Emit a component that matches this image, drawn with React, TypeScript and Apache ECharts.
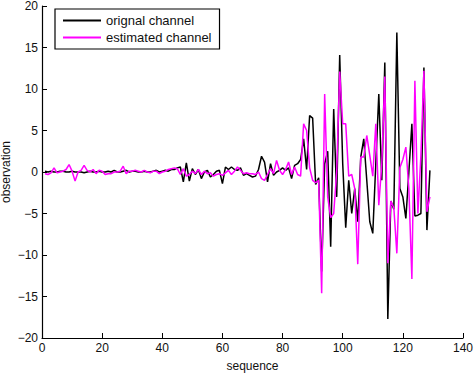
import React, { useEffect, useRef } from "react";
import * as echarts from "echarts";

const xTicks = [0, 20, 40, 60, 80, 100, 120, 140];
const yTicks = [-20, -15, -10, -5, 0, 5, 10, 15, 20];

const original = [
  0.1, 0, 0.1, 0, 0, 0.1, 0.1, 0, 0, 0.1,
  0, 0, 0, -0.1, 0, 0.1, 0, 0, 0.1, 0,
  0, 0.1, 0, 0.2, 0, 0, 0.1, 0.2, 0, 0.1,
  0.1, 0, 0, 0.1, 0, 0, 0.1, 0.2, 0, 0.1,
  0.2, 0.1, 0.3, 0.3, 0.5, 0.6, -1.2, 1.1, -1.1, 0.4,
  -0.3, 0.3, -0.8, 0, 0.2, -0.6, -0.3, 0.1, 0.2, -1.4,
  0.6, 0.3, 0.6, 0.3, 0.2, 0.5, -0.4, -0.2, -0.4, -0.6,
  -0.5, 0.3, 1.9, 1.2, -1.2, 1.0, -0.4, 0, 0.2, 0.5,
  0.2, 0.5, -0.8, 0.8, 1.0, 1.5, 4.0, 0.3, 6.8, 6.5,
  -1.5, -0.7, -12, 1, 2.5, -9, 7.6, -3, 14.1, 1,
  -6.7, -1, -5, -2, -6, 1.8, 4, -1, -6, -7.4,
  1, 9.4, -1, 13.2, -17.7, -3.5, -4.5, 16.8, -2, -3,
  -5.6, 0, 5.8, -5.3, -5.2, -5, 12.6, -7, 0.2,
];

const estimated = [
  -0.2, -0.3, -0.1, 0.5, -0.1, 0, 0.1, 0.3, 0.9, 0.1,
  -1.1, 0, 0.2, 0.8, 0.2, 0, 0.3, -0.2, 0.2, 0.1,
  -0.3, -0.2, -0.2, 0, 0, 0.1, 0.7, -0.2, 0.1, 0.1,
  0.2, 0.1, 0, 0.2, 0, -0.1, 0.1, 0.1, -0.2, 0,
  0.1, 0.3, 0.4, 0.5, 0.4, -0.3, 0.4, -0.5, -0.3, 0.1,
  -0.2, 0.3, -0.3, 0.1, -0.2, -0.1, -0.5, -0.3, -0.2, -0.4,
  -0.1, 0.2, -0.3, 0.1, 0.6, 0.2, -0.2, -0.1, -0.2, -0.2,
  -0.3, 0, -0.8, -1.0, -0.3, 0.4, -0.2, 1.4, 0.2, -0.3,
  0.3, 1.2, -0.3, 0.6, -0.3, -0.5, 5.8, 5.0, 0.5, -1.0,
  -1.3, -1.0, -14.6, 9.4, -3, -5.5, -5, 0, 12.1, 5.8,
  5.8, -0.5, -0.3, -2, -11.1, 1.8, 1.8, 4.4, 2, -0.5,
  5.8, -4, 1, 11.5, -11, -3.5, -4.3, -9.8, 0.5, 1.5,
  3, -2, -12.9, 11, -5, 2, 12.2, -4.8, -3,
];

const seriesNames = ["orignal channel", "estimated channel"];

export default function App() {
  const ref = useRef<HTMLDivElement>(null);
  useEffect(() => {
    if (!ref.current) return;
    const chart = echarts.init(ref.current, undefined, { renderer: "svg" });
    const font = "Liberation Sans, Arial, Helvetica, sans-serif";
    const minus = (v: number) => String(v).replace("-", "\u2212");
    chart.setOption({
      animation: false,
      backgroundColor: "#ffffff",
      textStyle: { fontFamily: font },
      grid: { left: 42, right: 11, top: 6, bottom: 35, containLabel: false, outerBoundsMode: "none" },
      legend: {
        orient: "vertical",
        left: 55,
        top: 9,
        padding: [5, 8, 5, 8],
        itemGap: 4,
        itemWidth: 38,
        itemHeight: 2,
        icon: "rect",
        borderColor: "#000",
        borderWidth: 1.2,
        backgroundColor: "#fff",
        textStyle: { fontFamily: font, fontSize: 13, color: "#111" },
        data: seriesNames,
      },
      xAxis: {
        type: "value",
        min: xTicks[0],
        max: xTicks[xTicks.length - 1],
        interval: 20,
        name: "sequence",
        nameLocation: "middle",
        nameGap: 22,
        nameMoveOverlap: false,
        nameTextStyle: { fontFamily: font, fontSize: 12, color: "#111" },
        axisLine: { onZero: false, lineStyle: { color: "#000", width: 1.2 } },
        axisTick: { inside: true, length: 5, lineStyle: { color: "#000" } },
        axisLabel: { color: "#111", fontSize: 12, margin: 4, fontFamily: font },
        splitLine: { show: false },
      },
      yAxis: {
        type: "value",
        min: yTicks[0],
        max: yTicks[yTicks.length - 1],
        interval: 5,
        name: "observation",
        nameLocation: "middle",
        nameGap: 30,
        nameMoveOverlap: false,
        nameRotate: 90,
        nameTextStyle: { fontFamily: font, fontSize: 12, color: "#111" },
        axisLine: { show: true, onZero: false, lineStyle: { color: "#000", width: 1.2 } },
        axisTick: { show: true, inside: true, length: 5, lineStyle: { color: "#000" } },
        axisLabel: { color: "#111", fontSize: 12, margin: 4, fontFamily: font, formatter: minus },
        splitLine: { show: false },
      },
      series: [
        {
          name: seriesNames[0],
          type: "line",
          data: original.map((v, i) => [i + 1, v]),
          showSymbol: false,
          symbol: "none",
          lineStyle: { color: "#000000", width: 1.5 },
          itemStyle: { color: "#000000" },
        },
        {
          name: seriesNames[1],
          type: "line",
          data: estimated.map((v, i) => [i + 1, v]),
          showSymbol: false,
          symbol: "none",
          lineStyle: { color: "#ff00ff", width: 1.5 },
          itemStyle: { color: "#ff00ff" },
        },
      ],
    });
    return () => chart.dispose();
  }, []);
  return <div ref={ref} style={{ width: 474, height: 373, position: "absolute", left: 0, top: 0 }} />;
}
